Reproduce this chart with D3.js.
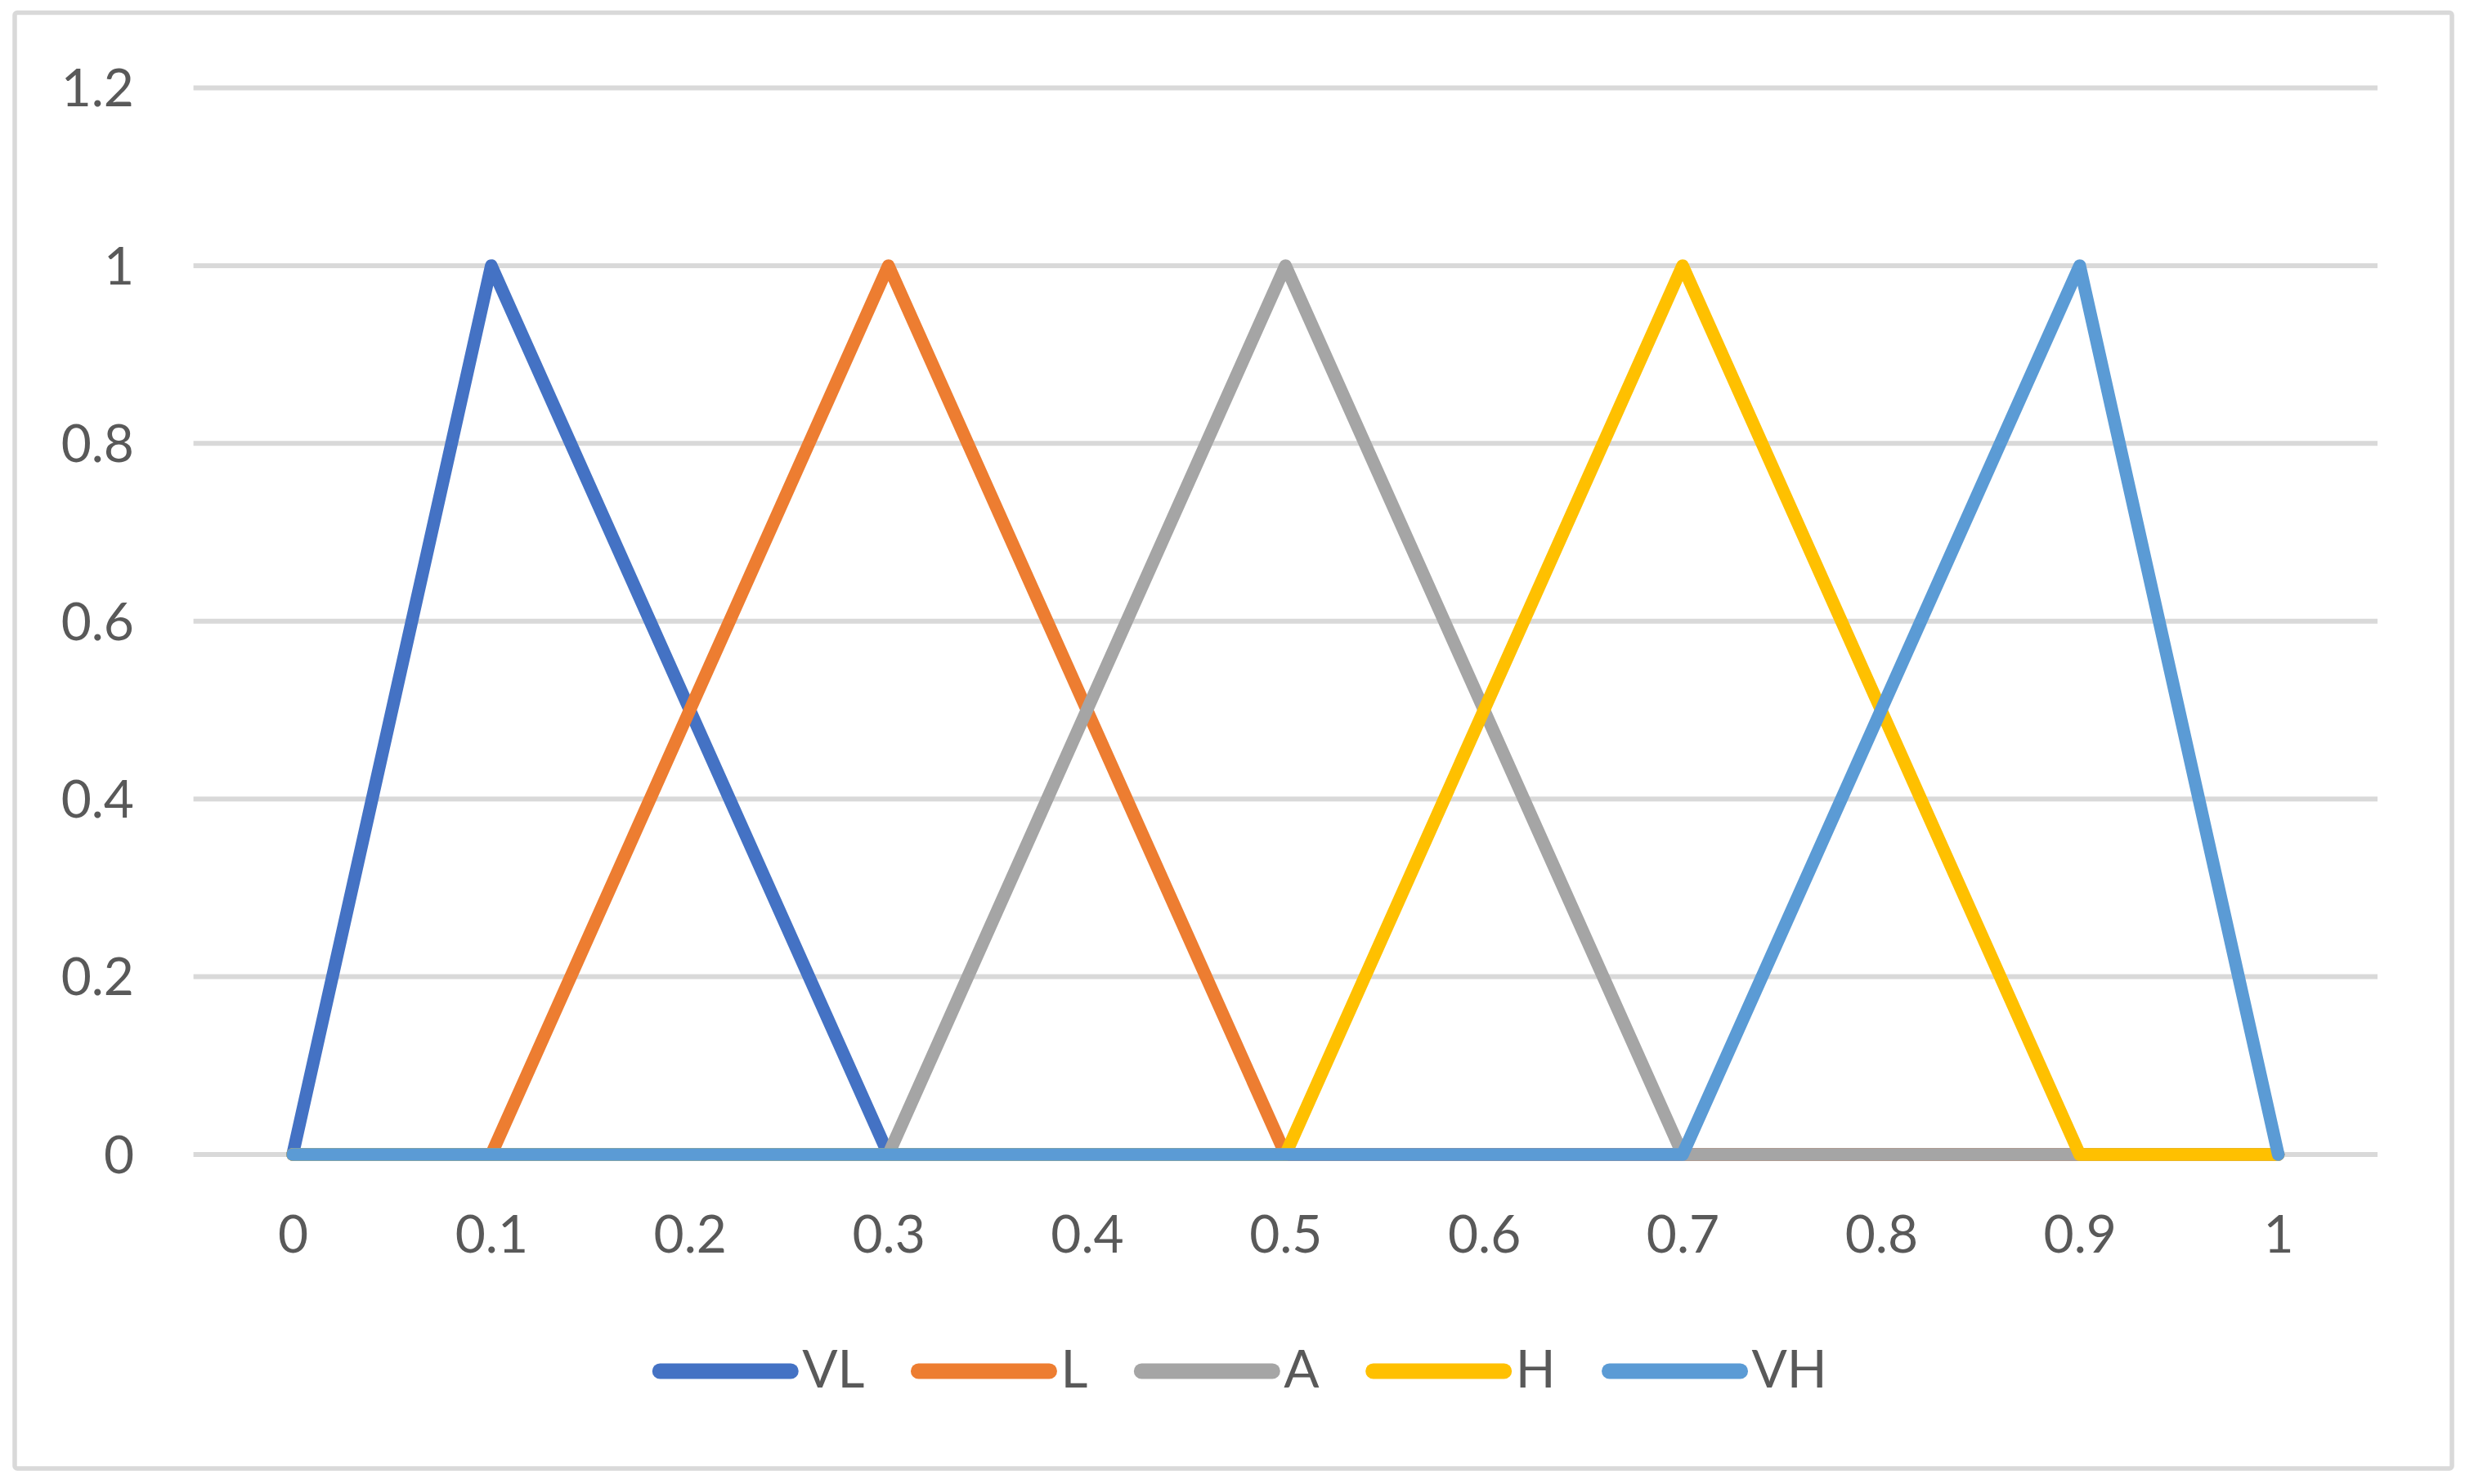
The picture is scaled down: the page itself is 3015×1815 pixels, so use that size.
<!DOCTYPE html>
<html>
<head>
<meta charset="utf-8">
<script src="https://cdn.jsdelivr.net/npm/d3@7"></script>
<style>
  html, body { margin: 0; padding: 0; background: #ffffff; }
  svg { display: block; }
  text { font-family: Lato, "Open Sans", "Liberation Sans", sans-serif; fill: #595959; }
</style>
</head>
<body>
<svg id="chart" width="3015" height="1815"></svg>
<script>
// ---- data ----
const categories = ["0", "0.1", "0.2", "0.3", "0.4", "0.5", "0.6", "0.7", "0.8", "0.9", "1"];
const seriesNames = ["VL", "L", "A", "H", "VH"];
const VL = [0, 1, 0.5, 0, 0, 0, 0, 0, 0, 0, 0];
const L  = [0, 0, 0.5, 1, 0.5, 0, 0, 0, 0, 0, 0];
const A  = [0, 0, 0, 0, 0.5, 1, 0.5, 0, 0, 0, 0];
const H  = [0, 0, 0, 0, 0, 0, 0.5, 1, 0.5, 0, 0];
const VH = [0, 0, 0, 0, 0, 0, 0, 0, 0.5, 1, 0];
const yTicks = [0, 0.2, 0.4, 0.6, 0.8, 1, 1.2];
const seriesColors = ["#4472C4", "#ED7D31", "#A5A5A5", "#FFC000", "#5B9BD5"];

const seriesValues = [VL, L, A, H, VH];
const series = seriesNames.map((name, i) => ({ name, values: seriesValues[i], color: seriesColors[i] }));

// ---- layout ----
const svg = d3.select("#chart");
const plot = { left: 236.6, right: 2908, top: 107.5, bottom: 1412 };

// chart border
svg.append("rect")
  .attr("x", 18).attr("y", 15.5)
  .attr("width", 2999 - 18).attr("height", 1796 - 15.5)
  .attr("rx", 3)
  .attr("fill", "#ffffff")
  .attr("stroke", "#d9d9d9")
  .attr("stroke-width", 5.5);

const x = d3.scalePoint().domain(categories).range([plot.left, plot.right]).padding(0.5);
const y = d3.scaleLinear().domain([0, 1.2]).range([plot.bottom, plot.top]);

// gridlines
svg.append("g").selectAll("line").data(yTicks).join("line")
  .attr("x1", plot.left).attr("x2", plot.right)
  .attr("y1", d => y(d)).attr("y2", d => y(d))
  .attr("stroke", "#d9d9d9").attr("stroke-width", 6);

// y axis labels
const yAxis = d3.axisLeft(y).tickValues(yTicks).tickFormat(d3.format("~g")).tickSize(0).tickPadding(0);
const gy = svg.append("g").attr("transform", "translate(164,0)").call(yAxis);
gy.select(".domain").remove();
gy.selectAll("text")
  .attr("font-size", 64)
  .attr("fill", "#595959")
  .style("font-family", "Lato, 'Open Sans', sans-serif")
  .attr("dy", "0.35em");

// x axis labels
const xAxis = d3.axisBottom(x).tickSize(0).tickPadding(0);
const gx = svg.append("g").attr("transform", "translate(0,1532)").call(xAxis);
gx.select(".domain").remove();
gx.selectAll("text")
  .attr("font-size", 64)
  .attr("fill", "#595959")
  .style("font-family", "Lato, 'Open Sans', sans-serif")
  .attr("y", 0).attr("dy", 0);

// lines
const line = d3.line().x((d, i) => x(categories[i])).y(d => y(d));
svg.append("g").selectAll("path").data(series).join("path")
  .attr("d", d => line(d.values))
  .attr("fill", "none")
  .attr("stroke", d => d.color)
  .attr("stroke-width", 15.5)
  .attr("stroke-linejoin", "round")
  .attr("stroke-linecap", "round");

// legend
const legendY = 1677;
const lineLen = 160;
const gap = 56;
const legend = svg.append("g");
let cursor = 0;
series.forEach(s => {
  const g = legend.append("g");
  g.append("line")
    .attr("x1", 10).attr("x2", 10 + lineLen)
    .attr("y1", legendY).attr("y2", legendY)
    .attr("stroke", s.color).attr("stroke-width", 19)
    .attr("stroke-linecap", "round");
  const t = g.append("text")
    .attr("x", 10 + lineLen + 14).attr("y", 1697)
    .attr("font-size", 64)
    .text(s.name);
  const w = t.node().getComputedTextLength();
  g.attr("transform", `translate(${cursor},0)`);
  cursor += 10 + lineLen + 14 + w + gap;
});
const totalW = cursor - gap;
legend.attr("transform", `translate(${1516 - totalW / 2},0)`);
</script>
</body>
</html>
